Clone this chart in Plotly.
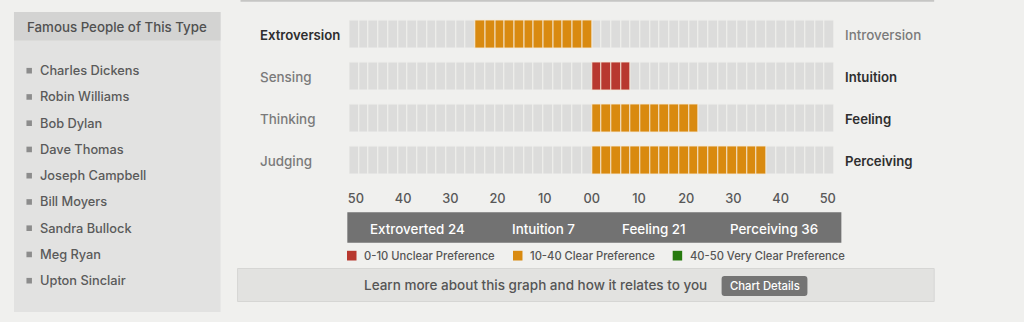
import math
import plotly.graph_objects as go

# Personality dimensions: poles, preferred side (-1 = left pole, +1 = right pole) and score
left_poles = ["Extroversion", "Sensing", "Thinking", "Judging"]
right_poles = ["Introversion", "Intuition", "Feeling", "Perceiving"]
preferred_side = [-1, 1, 1, 1]
scores = [24, 7, 21, 36]

summary_names = ["Extroverted", "Intuition", "Feeling", "Perceiving"]

tick_values = [-50, -40, -30, -20, -10, 0, 10, 20, 30, 40, 50]
tick_labels = ["50", "40", "30", "20", "10", "00", "10", "20", "30", "40", "50"]

famous_people = ["Charles Dickens", "Robin Williams", "Bob Dylan", "Dave Thomas",
                 "Joseph Campbell", "Bill Moyers", "Sandra Bullock", "Meg Ryan",
                 "Upton Sinclair"]

legend_labels = ["0-10 Unclear Preference", "10-40 Clear Preference", "40-50 Very Clear Preference"]

SEG = 2            # score units per block
MAX = 50
RED, ORANGE, GREEN = "#b8382f", "#d98a10", "#267a0e"
TRACK = "#dcdcdb"
BG = "#f0f0ee"
FONT = "Inter"

W, H = 1024, 322


def px(x):
    return x / W


def py(y):
    return 1 - y / H


def band_color(score):
    if score < 10:
        return RED
    if score < 40:
        return ORANGE
    return GREEN


fig = go.Figure()

# Grey background track of 50 blocks per row
n_blocks = 2 * MAX // SEG
track_y, track_base = [], []
for r in range(len(left_poles)):
    for i in range(n_blocks):
        track_y.append(r)
        track_base.append(-MAX + i * SEG)
fig.add_trace(go.Bar(
    orientation="h", y=track_y, x=[SEG] * len(track_y), base=track_base,
    width=0.69, marker=dict(color=TRACK, line=dict(color="#efefed", width=1)),
    hoverinfo="skip", showlegend=False,
))

# Coloured blocks for each preference score
for r, (side, s) in enumerate(zip(preferred_side, scores)):
    n = math.ceil(s / SEG)
    bases = [i * SEG if side > 0 else -(i + 1) * SEG for i in range(n)]
    fig.add_trace(go.Bar(
        orientation="h", y=[r] * n, x=[SEG] * n, base=bases, width=0.69,
        marker=dict(color=band_color(s), line=dict(color="rgba(245,235,220,0.85)", width=1)),
        hovertemplate=f"{summary_names[r]} {s}<extra></extra>", showlegend=False,
    ))

# Invisible carrier for the tick label axis
fig.add_trace(go.Scatter(x=[tick_values[0], tick_values[-1]], y=[0, 0], xaxis="x2",
                         mode="markers", marker=dict(opacity=0), hoverinfo="skip",
                         showlegend=False))

shapes = []
annotations = []

# Thin rule across the top
shapes.append(dict(type="line", xref="paper", yref="paper", x0=px(240), x1=px(935),
                   y0=py(0.8), y1=py(0.8), line=dict(color="#c6c6c4", width=2)))

# Left panel
shapes.append(dict(type="rect", xref="paper", yref="paper", x0=px(13), x1=px(220),
                   y0=py(312), y1=py(12), fillcolor="#e2e2e1", line=dict(width=0), layer="below"))
shapes.append(dict(type="rect", xref="paper", yref="paper", x0=px(13), x1=px(220),
                   y0=py(40.5), y1=py(12), fillcolor="#d3d3d2", line=dict(width=0), layer="below"))
annotations.append(dict(xref="paper", yref="paper", x=px(24), y=py(27), xanchor="left",
                        yanchor="middle", showarrow=False, text="Famous People of This Type",
                        font=dict(family=FONT, size=13.3, color="#505050", weight=500)))
for i, name in enumerate(famous_people):
    yc = 70.7 + i * 26.25
    shapes.append(dict(type="rect", xref="paper", yref="paper", x0=px(25.5), x1=px(31),
                       y0=py(yc + 2.8), y1=py(yc - 2.8), fillcolor="#8c8c8c", line=dict(width=0)))
    annotations.append(dict(xref="paper", yref="paper", x=px(37.5), y=py(yc), xanchor="left",
                            yanchor="middle", showarrow=False, text=name,
                            font=dict(family=FONT, size=12.8, color="#5a5a5a", weight=500)))

# Row labels on both sides; the preferred pole is darker
for r in range(len(left_poles)):
    left_dark = preferred_side[r] < 0
    annotations.append(dict(xref="paper", yref="y", x=px(257.5), y=r, xanchor="left",
                            yanchor="middle", showarrow=False, text=left_poles[r],
                            font=dict(family=FONT, size=13.2 if left_dark else 13.4,
                                      color="#2e2e2e" if left_dark else "#7a7a7a",
                                      weight=600 if left_dark else 500)))
    annotations.append(dict(xref="paper", yref="y", x=px(843.5), y=r, xanchor="left",
                            yanchor="middle", showarrow=False, text=right_poles[r],
                            font=dict(family=FONT, size=13.4 if left_dark else 13.2,
                                      color="#7a7a7a" if left_dark else "#2e2e2e",
                                      weight=500 if left_dark else 600)))

# Summary bar
shapes.append(dict(type="rect", xref="paper", yref="paper", x0=px(347), x1=px(842),
                   y0=py(242.7), y1=py(212.3), fillcolor="#727272", line=dict(width=0)))
summary_x = [417.5, 544, 654.5, 775]
for name, s, xc in zip(summary_names, scores, summary_x):
    annotations.append(dict(xref="paper", yref="paper", x=px(xc), y=py(228.5), xanchor="center",
                            yanchor="middle", showarrow=False, text=f"{name} {s}",
                            font=dict(family=FONT, size=13.4, color="#ffffff", weight=500)))

# Colour key
key_x = [346.7, 513, 673]
for lbl, col, kx in zip(legend_labels, [RED, ORANGE, GREEN], key_x):
    shapes.append(dict(type="rect", xref="paper", yref="paper", x0=px(kx), x1=px(kx + 9.5),
                       y0=py(260.5), y1=py(250.8), fillcolor=col, line=dict(width=0)))
    annotations.append(dict(xref="paper", yref="paper", x=px(kx + 15), y=py(255.5),
                            xanchor="left", yanchor="middle", showarrow=False, text=lbl,
                            font=dict(family=FONT, size=11.2, color="#555555", weight=500)))

# Info strip with button
shapes.append(dict(type="rect", xref="paper", yref="paper", x0=px(237), x1=px(935),
                   y0=py(301.5), y1=py(268.5), fillcolor="#e2e2e0",
                   line=dict(color="#d6d6d4", width=1), layer="below"))
annotations.append(dict(xref="paper", yref="paper", x=px(536), y=py(284.5), xanchor="center",
                        yanchor="middle", showarrow=False,
                        text="Learn more about this graph and how it relates to you",
                        font=dict(family=FONT, size=13.5, color="#555555", weight=500)))
bx0, bx1, by0, by1, rr = 722, 808, 276, 296, 3
path = (f"M {px(bx0 + rr)},{py(by0)} L {px(bx1 - rr)},{py(by0)} "
        f"Q {px(bx1)},{py(by0)} {px(bx1)},{py(by0 + rr)} L {px(bx1)},{py(by1 - rr)} "
        f"Q {px(bx1)},{py(by1)} {px(bx1 - rr)},{py(by1)} L {px(bx0 + rr)},{py(by1)} "
        f"Q {px(bx0)},{py(by1)} {px(bx0)},{py(by1 - rr)} L {px(bx0)},{py(by0 + rr)} "
        f"Q {px(bx0)},{py(by0)} {px(bx0 + rr)},{py(by0)} Z")
shapes.append(dict(type="path", xref="paper", yref="paper", path=path,
                   fillcolor="#747474", line=dict(width=0)))
annotations.append(dict(xref="paper", yref="paper", x=px(765), y=py(285.5), xanchor="center",
                        yanchor="middle", showarrow=False, text="Chart Details",
                        font=dict(family=FONT, size=11.3, color="#ffffff", weight=500)))

fig.update_layout(
    width=W, height=H, margin=dict(l=0, r=0, t=0, b=0),
    paper_bgcolor=BG, plot_bgcolor="rgba(0,0,0,0)",
    barmode="overlay", bargap=0,
    xaxis=dict(domain=[px(349), px(835)], range=[-MAX, MAX], visible=False, fixedrange=True),
    xaxis2=dict(domain=[px(349), px(835)], overlaying="x", anchor="y", side="bottom",
                range=[-51.4, 51.4], tickvals=tick_values, ticktext=tick_labels,
                showgrid=False, zeroline=False, showline=False, ticks="",
                ticklabelstandoff=8,
                tickfont=dict(family=FONT, size=12.8, color="#585858", weight=500),
                fixedrange=True),
    yaxis=dict(domain=[py(181.5), py(13.5)], range=[3.5, -0.5], visible=False, fixedrange=True),
    shapes=shapes, annotations=annotations,
    font=dict(family=FONT),
)

fig.write_html("out.html", config={"displayModeBar": False})
